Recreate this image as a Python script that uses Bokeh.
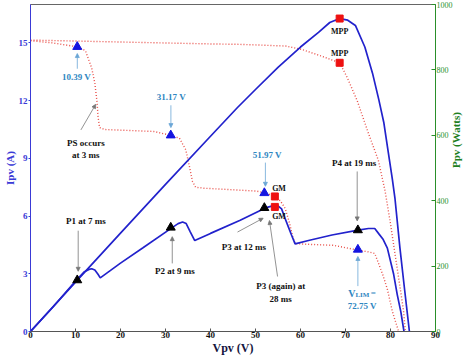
import math
from bokeh.plotting import figure
from bokeh.models import Range1d, LinearAxis, FixedTicker, Label, Arrow, NormalHead
from bokeh.embed import file_html
from bokeh.resources import INLINE

# ---------------- data ----------------
# uniform irradiance I-V curve (red dotted)
iv_u_v = [0, 10, 20, 30, 40, 46, 50, 56.7, 60.2, 64.5, 68.7, 70.4, 72.6, 75.1, 77.3, 78.8, 80.0, 80.7, 81.8, 82.9, 83.3]
iv_u_i = [15.15, 15.1, 15.05, 15.0, 14.95, 14.93, 14.9, 14.84, 14.67, 14.33, 13.97, 13.2, 12.0, 10.3, 8.9, 7.3, 5.6, 4.5, 2.8, 1.07, 0]

# uniform irradiance P-V curve (blue)
pv_u_v = [0, 10, 20, 30, 40, 46, 50, 55, 60, 64, 66.5, 68.7, 70.5, 72.2, 74.3, 76.0, 77.4, 78.5, 79.4, 80.4, 81.0, 82.1, 83.2, 84.2]
pv_u_p = [0, 151, 301, 450, 597, 685, 740, 808, 870, 915, 945, 957, 952, 936, 870, 790, 709, 640, 558, 467, 406, 255, 120, 0]

# partial shading I-V curve (red dotted)
iv_s_v = [0, 5, 10.4, 12.2, 13.6, 14.3, 14.8, 15.0, 15.35, 16.5, 22, 27.4, 31.1, 33.1, 34.5, 35.3, 36.0, 36.7,
          38.5, 44, 50.2, 52.3, 54.3, 55.5, 56.6, 57.6, 58.3, 58.8, 62, 67.3, 72.8, 75.1, 76.5, 77.2, 78.3, 79.3, 80.4, 81.0, 81.8]
iv_s_i = [15.12, 15.0, 14.8, 14.6, 13.7, 12.9, 11.9, 11.2, 10.6, 10.5, 10.45, 10.4, 10.2, 10.05, 9.45, 8.6, 7.8, 7.5,
          7.45, 7.38, 7.3, 7.2, 7.02, 6.8, 6.4, 5.6, 4.9, 4.57, 4.53, 4.48, 4.23, 4.14, 4.06, 3.63, 2.94, 2.2, 1.06, 0.6, 0]

# partial shading P-V curve (blue)
pv_s_v = [0, 5, 10.2, 12.0, 13.0, 13.6, 14.3, 15.0, 15.5, 20, 25, 31.4, 32.8, 33.8, 34.6, 35.5, 36.5, 40, 46.6,
          52.2, 53.8, 54.8, 55.8, 56.6, 57.3, 58.0, 58.8, 62, 67, 72.8, 75.1, 76.5, 77.5, 78.3, 79.3, 80.7, 81.5, 82.3, 83.0]
pv_s_p = [0, 75, 157, 183, 190, 192, 188, 175, 164, 209, 256, 317, 330, 335, 330, 305, 278, 300, 340,
          378, 384, 386, 375, 345, 320, 295, 268, 279, 295, 310, 315, 315, 297, 283, 255, 175, 113, 60, 0]

# marked points
vlim_v = [10.39, 31.17, 51.97, 72.75]
vlim_i = [14.8, 10.2, 7.2, 4.26]
ppt_p = [157, 318, 378, 310]
gm_v = [54.3]
gm_i = [7.02]
gm_p = [381]
mpp_v = [68.7]
mpp_i = [13.97]
mpp_p = [957]

x_ticks = [0, 10, 20, 30, 40, 50, 60, 70, 80, 90]
i_ticks = [0, 3, 6, 9, 12, 15]
p_ticks = [0, 200, 400, 600, 800, 1000]

# ---------------- styling ----------------
FONT = "Liberation Serif"
BLUE = "#2222cc"
RED = "#e8504a"
AXBLUE = "#3a3ad6"
GREEN = "#2a8f2a"
TXTBLUE = "#2e86c1"

p = figure(width=470, height=357, x_range=Range1d(0, 90), y_range=Range1d(0, 17),
           output_backend="svg", toolbar_location=None,
           min_border_left=0, min_border_right=0, min_border_top=4, min_border_bottom=0)
p.extra_y_ranges = {"P": Range1d(0, 1000)}
p.xgrid.visible = False
p.ygrid.visible = False
p.outline_line_color = "#666666"

xa = p.below[0]
xa.ticker = FixedTicker(ticks=x_ticks)
xa.major_tick_in = 3
xa.major_tick_out = 0
xa.minor_tick_line_color = None
xa.axis_line_color = "#555555"
xa.major_tick_line_color = "#555555"
xa.major_label_text_font = FONT
xa.major_label_text_font_style = "bold"
xa.major_label_text_font_size = "9px"
xa.major_label_text_color = "#111111"
xa.major_label_standoff = 0
xa.axis_label = "Vpv (V)"
xa.axis_label_text_font = FONT
xa.axis_label_text_font_style = "bold"
xa.axis_label_text_font_size = "12px"
xa.axis_label_text_color = "#151540"
xa.axis_label_standoff = 0

ya = p.left[0]
ya.ticker = FixedTicker(ticks=i_ticks)
ya.major_tick_in = 0
ya.major_tick_out = 2
ya.minor_tick_line_color = None
ya.axis_line_color = AXBLUE
ya.major_tick_line_color = AXBLUE
ya.major_label_text_font = FONT
ya.major_label_text_font_style = "bold"
ya.major_label_text_font_size = "9px"
ya.major_label_text_color = AXBLUE
ya.major_label_standoff = 1
ya.axis_label = "Ipv (A)"
ya.axis_label_text_font = FONT
ya.axis_label_text_font_style = "bold"
ya.axis_label_text_font_size = "11px"
ya.axis_label_text_color = AXBLUE
ya.axis_label_standoff = 0

ra = LinearAxis(y_range_name="P", ticker=FixedTicker(ticks=p_ticks))
ra.major_tick_in = 4
ra.major_tick_out = 0
ra.minor_tick_line_color = None
ra.axis_line_color = GREEN
ra.major_tick_line_color = GREEN
ra.major_label_text_font = FONT
ra.major_label_text_font_size = "8px"
ra.major_label_text_color = GREEN
ra.major_label_standoff = 1
ra.axis_label = "Ppv (Watts)"
ra.axis_label_text_font = FONT
ra.axis_label_text_font_style = "bold"
ra.axis_label_text_font_size = "11px"
ra.axis_label_text_color = "#1f7f1f"
ra.axis_label_standoff = 0
try:
    ra.axis_label_orientation = math.pi / 2
except Exception:
    pass
p.add_layout(ra, "right")

# ---------------- curves ----------------
p.line(iv_u_v, iv_u_i, line_color=RED, line_width=1.4, line_dash="1 2")
p.line(iv_s_v, iv_s_i, line_color=RED, line_width=1.4, line_dash="1 2")
p.line(pv_u_v, pv_u_p, y_range_name="P", line_color=BLUE, line_width=1.7)
p.line(pv_s_v, pv_s_p, y_range_name="P", line_color=BLUE, line_width=1.7)

# ---------------- markers ----------------
p.scatter(vlim_v, vlim_i, marker="triangle", size=9, fill_color="#1515e0", line_color="#1515e0")
p.scatter(vlim_v, ppt_p, y_range_name="P", marker="triangle", size=9, fill_color="black", line_color="black")
p.scatter(gm_v, gm_i, marker="square", size=7, fill_color="#ee1111", line_color="#ee1111")
p.scatter(gm_v, gm_p, y_range_name="P", marker="square", size=7, fill_color="#ee1111", line_color="#ee1111")
p.scatter(mpp_v, mpp_i, marker="square", size=7, fill_color="#ee1111", line_color="#ee1111")
p.scatter(mpp_v, mpp_p, y_range_name="P", marker="square", size=7, fill_color="#ee1111", line_color="#ee1111")

# ---------------- annotations ----------------
def lab(x, y, text, color="#111111", size="9px", align="center", style="bold"):
    p.add_layout(Label(x=x, y=y, text=text, text_font=FONT, text_font_size=size,
                       text_font_style=style, text_color=color, text_align=align,
                       text_baseline="middle"))

def arr(x0, y0, x1, y1, color="#777777"):
    p.add_layout(Arrow(end=NormalHead(size=4, fill_color=color, line_color=color, line_width=0.8),
                       x_start=x0, y_start=y0, x_end=x1, y_end=y1,
                       line_color=color, line_width=0.8))

ARBLUE = "#6aa6d6"
lab(10.2, 13.25, "10.39 V", TXTBLUE)
arr(10.4, 13.66, 10.4, 14.45, ARBLUE)
lab(31.3, 12.17, "31.17 V", TXTBLUE)
arr(31.2, 11.76, 31.2, 10.6, ARBLUE)
lab(52.6, 9.19, "51.97 V", TXTBLUE)
arr(52.2, 8.78, 52.2, 7.55, ARBLUE)

lab(12.3, 9.81, "PS occurs")
lab(12.3, 9.19, "at 3 ms")
arr(11.2, 10.48, 14.5, 11.81)

lab(53.7, 7.45, "GM", size="8px", align="left")
lab(53.7, 5.96, "GM", size="8px", align="left")
lab(68.7, 15.58, "MPP", size="8px")
lab(68.7, 14.47, "MPP", size="8px")

lab(12.3, 5.72, "P1 at 7 ms")
arr(10.6, 5.24, 10.6, 3.13)
lab(32.1, 3.12, "P2 at 9 ms")
arr(31.5, 3.54, 31.5, 4.93)
lab(47.4, 4.37, "P3 at 12 ms")
arr(46.0, 5.17, 51.7, 5.89)
lab(55.6, 2.35, "P3 (again) at")
lab(55.6, 1.71, "28 ms")
arr(54.9, 2.86, 53.1, 5.77)
lab(71.9, 8.77, "P4 at 19 ms")
arr(72.6, 8.32, 72.6, 5.75)

lab(70.6, 2.0, "V", TXTBLUE, size="10px", align="left")
lab(72.2, 1.9, "LIM", TXTBLUE, size="7px", align="left")
lab(75.6, 2.0, "=", TXTBLUE, size="9px", align="left")
lab(73.7, 1.35, "72.75 V", TXTBLUE)
arr(72.75, 2.36, 72.75, 3.9, ARBLUE)

open("out.html", "w").write(file_html(p, INLINE))
